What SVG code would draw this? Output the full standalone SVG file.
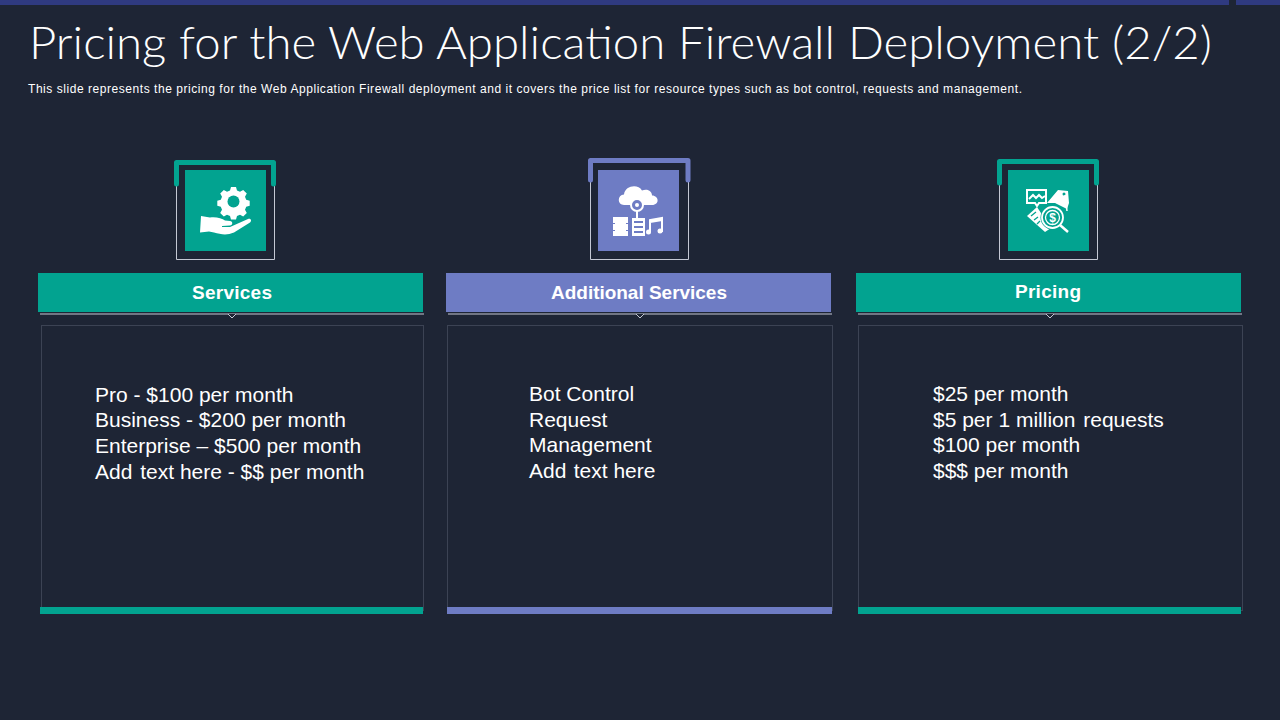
<svg xmlns="http://www.w3.org/2000/svg" width="1280" height="720" viewBox="0 0 1280 720">
<style>
.sans{font-family:"Liberation Sans",Arial,sans-serif}
.title{font-family:"Lato","Liberation Sans",sans-serif;font-weight:300;font-size:46px;fill:#fff}
.sub{font-size:12px;fill:#fff}
.head{font-size:19px;font-weight:700;fill:#fff;text-anchor:middle}
.body{font-size:21px;fill:#fff}
.frame{fill:none;stroke:#c4c8d4;stroke-width:1}
.card{fill:none;stroke:#3c4354;stroke-width:1}
.rule{stroke:#c4c8d4;stroke-width:1;fill:none}
.notch{stroke:#c4c8d4;stroke-width:1;fill:#1e2535}
.teal{fill:#02a390}
.blue{fill:#6e7cc4}
.tealS{fill:none;stroke:#02a390;stroke-width:5;stroke-linejoin:round;stroke-linecap:round}
.blueS{fill:none;stroke:#6e7cc4;stroke-width:5;stroke-linejoin:round;stroke-linecap:round}
.w{fill:#fff}
.wl{fill:none;stroke:#fff;stroke-width:2}
</style>
<rect width="1280" height="720" fill="#1e2535"/>
<g id="topbar">
<rect x="0" y="0" width="1229" height="5" fill="#2f3a80"/>
<rect x="1236" y="0" width="44" height="5" fill="#2f3a80"/>
</g>
<text class="title" x="29" y="59" textLength="1183" lengthAdjust="spacingAndGlyphs">Pricing for the Web Application Firewall Deployment (2/2)</text>
<text class="sans sub" x="28" y="93" textLength="994" lengthAdjust="spacing">This slide represents the pricing for the Web Application Firewall deployment and it covers the price list for resource types such as bot control, requests and management.</text>

<g id="card-services">
<path class="frame" d="M176.500 184V259.500H274.500V184"/>
<path class="tealS" d="M176.500 184V162.500H273.500V184"/>
<rect class="teal" x="185" y="170" width="81" height="81"/>
<g id="icon-services">
<path class="w" d="M231 187h5l1 3.500 3 1.200 3.200-1.800 3.600 3.600-1.800 3.200 1.200 3 3.500 1v5l-3.500 1-1.200 3 1.800 3.200-3.600 3.600-3.200-1.800-3 1.200-1 3.500h-5l-1-3.500-3-1.200-3.200 1.800-3.600-3.600 1.800-3.200-1.200-3-3.500-1v-5l3.500-1 1.200-3-1.800-3.200 3.600-3.600 3.200 1.800 3-1.200z"/>
<circle cx="233.500" cy="201.500" r="6" fill="#02a390"/>
<path class="w" d="M201 216l9 1.500c6-1 12 1 15 3l5 .500c3 .500 3 4 0 4.500l-8 .500 0 1 8 0 18-8c3-1 4 2 2 3.500l-16 10c-7 3-13 2-20 0l-5-1-9 1z"/>
</g>
<rect class="teal" x="38" y="273" width="385" height="39"/>
<text class="sans head" x="232" y="299" textLength="80">Services</text>
<path class="rule" d="M40 314H424"/>
<path class="notch" d="M228 314l4 4 4-4"/>
<rect class="card" x="41.500" y="325.500" width="382" height="285"/>
<rect class="teal" x="40" y="607" width="383" height="7"/>
<text class="sans body" x="95" y="402">Pro - $100 per month</text>
<text class="sans body" x="95" y="427">Business - $200 per month</text>
<text class="sans body" x="95" y="453">Enterprise – $500 per month</text>
<text class="sans body" x="95" y="479">Add <tspan dx="2">text here - $$ per month</tspan></text>
</g>

<g id="card-additional">
<path class="frame" d="M590.500 180V259.500H688.500V180"/>
<path class="blueS" d="M590.500 180V160.500H688V180"/>
<rect class="blue" x="598" y="170" width="81" height="81"/>
<g id="icon-additional">
<path class="w" d="M624 205c-7 0-7-10 0-10.500 1-9 14-11 18-4 6-2 10 1 10 5 7 0 8 9.500 0 9.500z"/>
<circle cx="637" cy="205" r="6" fill="#6e7cc4" stroke="#fff" stroke-width="2"/>
<circle cx="637" cy="205" r="2" class="w"/>
<path class="w" d="M636 210h2v8h-2z"/>
<path class="w" d="M613 217h15v6h-2v1h2v6h-2v1h2v5h-15v-5h2v-1h-2v-6h2v-1h-2z"/>
<path class="w" d="M632 218h13v18h-13zM634 221v2h9v-2zM634 226v2h9v-2zM634 231v2h9v-2z" fill-rule="evenodd"/>
<path class="wl" d="M650 232v-12l12-2v14M650 222l12-2"/>
<circle class="w" cx="648.500" cy="232" r="2.500"/>
<circle class="w" cx="660" cy="231" r="2.500"/>
</g>
<rect class="blue" x="446" y="273" width="385" height="39"/>
<text class="sans head" x="639" y="299" textLength="176">Additional Services</text>
<path class="rule" d="M448 314H832"/>
<path class="notch" d="M636 314l4 4 4-4"/>
<rect class="card" x="447.500" y="325.500" width="385" height="285"/>
<rect class="blue" x="447" y="607" width="385" height="7"/>
<text class="sans body" x="529" y="401">Bot Control</text>
<text class="sans body" x="529" y="427">Request</text>
<text class="sans body" x="529" y="452">Management</text>
<text class="sans body" x="529" y="478">Add <tspan dx="1.500">text here</tspan></text>
</g>

<g id="card-pricing">
<path class="frame" d="M999.500 183V259.500H1097.500V183"/>
<path class="tealS" d="M999.500 183V161.500H1096.500V183"/>
<rect class="teal" x="1008" y="170" width="81" height="81"/>
<g id="icon-pricing">
<path class="wl" d="M1027 190h19v13h-7l-2 3-2-3h-8z"/>
<path class="wl" stroke-width="1.500" d="M1029 199l4-4 3 3 3-3 3 3 3-2"/>
<path class="w" d="M1047 203l11-13 10 1 1 12-2 6-12-6z"/>
<circle cx="1064" cy="194" r="1.500" fill="#02a390"/>
<path d="M1065 195l2 16" stroke="#fff" stroke-width="1.500" fill="none"/>
<path class="w" d="M1027 216l10-9 14 21-6 4z"/>
<path d="M1031 216l5-4M1034 220l4-3M1037 224l3-3" stroke="#02a390" stroke-width="1.300" fill="none"/>
<circle cx="1052.500" cy="217.500" r="12" fill="#02a390"/>
<circle cx="1052.500" cy="217.500" r="10.500" fill="#02a390" stroke="#fff" stroke-width="1.800"/>
<circle cx="1052.500" cy="217.500" r="7" fill="#02a390" stroke="#fff" stroke-width="1.300"/>
<text class="sans" x="1052.500" y="222" font-size="12" font-weight="700" fill="#fff" text-anchor="middle">$</text>
<path d="M1060 225l8 7" stroke="#fff" stroke-width="2.500" fill="none"/>
</g>
<rect class="teal" x="856" y="273" width="385" height="39"/>
<text class="sans head" x="1048" y="297.500" textLength="66">Pricing</text>
<path class="rule" d="M858 314H1242"/>
<path class="notch" d="M1046 314l4 4 4-4"/>
<rect class="card" x="858.500" y="325.500" width="384" height="285"/>
<rect class="teal" x="858" y="607" width="383" height="7"/>
<text class="sans body" x="933" y="401">$25 per month</text>
<text class="sans body" x="933" y="427">$5 per 1 million <tspan dx="2">requests</tspan></text>
<text class="sans body" x="933" y="452">$100 per month</text>
<text class="sans body" x="933" y="478">$$$ per month</text>
</g>
</svg>
